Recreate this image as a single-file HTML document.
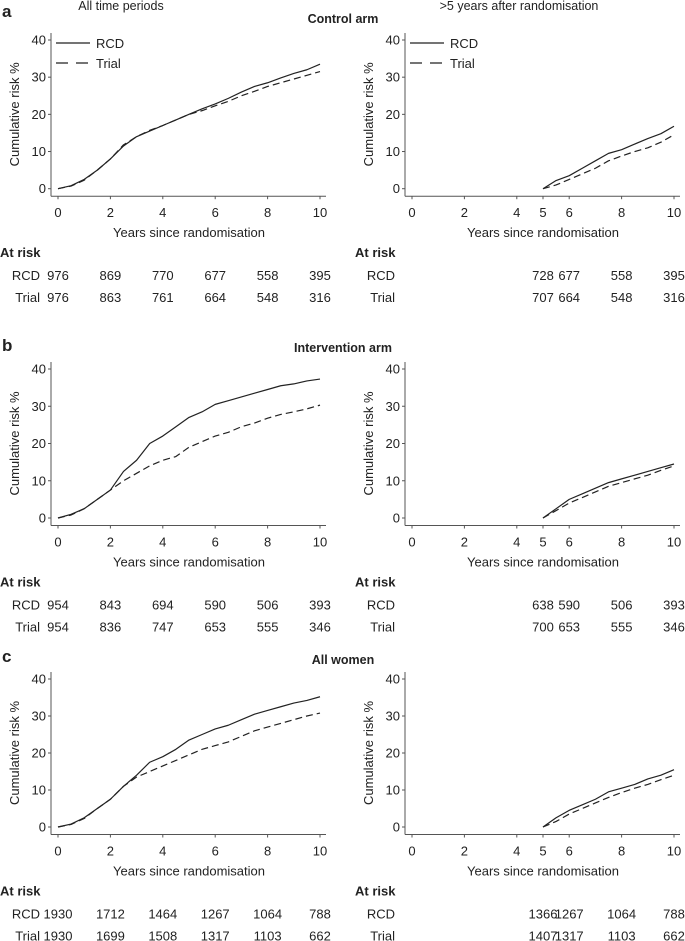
<!DOCTYPE html>
<html><head><meta charset="utf-8"><style>
body{margin:0;background:#fff;}
svg{display:block;font-family:"Liberation Sans",sans-serif;}
</style></head><body>
<svg id="fig" width="685" height="941" viewBox="0 0 685 941"></svg>
<script>
const xs = [0,0.5,1,1.5,2,2.5,3,3.5,4,4.5,5,5.5,6,6.5,7,7.5,8,8.5,9,9.5,10];
const xsLate = [5,5.5,6,6.5,7,7.5,8,8.5,9,9.5,10];
const aRcd = [0,0.8,2.5,5,8,11.5,14,15.5,17,18.5,20,21.5,22.8,24.3,26,27.5,28.5,29.8,31,32,33.5];
const aTrial = [0,0.7,2.3,5,8,11.8,14,15.7,17,18.5,20,21,22.3,23.5,25,26.2,27.5,28.5,29.5,30.5,31.5];
const aRcdLate = [0,2.2,3.5,5.5,7.5,9.5,10.5,12,13.5,14.8,16.8];
const aTrialLate = [0,1,2.5,4,5.5,7.5,8.8,10,11,12.5,14.5];
const bRcd = [0,1,2.5,5,7.5,12.5,15.5,20,22,24.5,27,28.5,30.5,31.5,32.5,33.5,34.5,35.5,36,36.8,37.3];
const bTrial = [0,0.8,2.5,5,7.5,10,12,14,15.5,16.5,19,20.5,22,23,24.5,25.5,26.8,27.8,28.5,29.3,30.3];
const bRcdLate = [0,2.5,5,6.5,8,9.5,10.5,11.5,12.5,13.5,14.5];
const bTrialLate = [0,2,4,5.5,7,8.5,9.5,10.5,11.5,12.8,14];
const cRcd = [0,0.8,2.5,5,7.5,11,14,17.5,19,21,23.5,25,26.5,27.5,29,30.5,31.5,32.5,33.5,34.2,35.2];
const cTrial = [0,0.7,2.3,5,7.5,11,13.5,15,16.5,18,19.5,21,22,23,24.5,26,27,28,29,30,30.8];
const cRcdLate = [0,2.5,4.5,6,7.5,9.5,10.5,11.5,13,14,15.5];
const cTrialLate = [0,1.5,3.5,5,6.5,8,9.3,10.5,11.5,12.8,14];
const yTicks = [0,10,20,30,40];
const xTicksAll = [0,2,4,6,8,10];
const xTicksLate = [0,2,4,5,6,8,10];
const riskTimesAll = [0,2,4,6,8,10];
const riskTimesLate = [5,6,8,10];
const aRiskRcd = [976,869,770,677,558,395];
const aRiskTrial = [976,863,761,664,548,316];
const aRiskRcdLate = [728,677,558,395];
const aRiskTrialLate = [707,664,548,316];
const bRiskRcd = [954,843,694,590,506,393];
const bRiskTrial = [954,836,747,653,555,346];
const bRiskRcdLate = [638,590,506,393];
const bRiskTrialLate = [700,653,555,346];
const cRiskRcd = [1930,1712,1464,1267,1064,788];
const cRiskTrial = [1930,1699,1508,1317,1103,662];
const cRiskRcdLate = [1366,1267,1064,788];
const cRiskTrialLate = [1407,1317,1103,662];

const svg = document.getElementById('fig');
const NS = 'http://www.w3.org/2000/svg';
function mk(tag, attrs, text){const e=document.createElementNS(NS,tag);for(const k in attrs)e.setAttribute(k,attrs[k]);if(text!==undefined)e.textContent=text;svg.appendChild(e);return e;}

function txt(x,y,s,anchor,size,weight,name){
  const t=mk('text',{x:x,y:y,'text-anchor':anchor||'middle','font-size':size||13,'font-weight':weight||'normal',fill:'#222'},s);
  
  
  return t;
}

mk('rect',{x:0,y:0,width:685,height:941,fill:'#fff'});
txt(121,10,'All time periods','middle',12.5,'normal','col-header-all-periods');
txt(519,10,'>5 years after randomisation','middle',12.5,'normal','col-header-late');

function panel(opt){
  const X0=opt.x0, X10=opt.x10;
  const sx=v=>X0+(X10-X0)*v/10;
  const sy=v=>opt.y0+(opt.y40-opt.y0)*v/40;
  const axL=X0-7, axR=X10+6, axB=opt.y0+7.5;
  const g=opt.key;
  let e=mk('line',{x1:axL,y1:sy(40)-7,x2:axL,y2:axB,stroke:'#555','stroke-width':1});
   
  e=mk('line',{x1:axL,y1:axB,x2:axR,y2:axB,stroke:'#555','stroke-width':1});
   
  yTicks.forEach(v=>{
    const t=mk('line',{x1:axL-3,y1:sy(v),x2:axL,y2:sy(v),stroke:'#555'});
     
    txt(axL-5,sy(v)+4.5,String(v),'end',13,'normal',g+'-y-tick-label');
  });
  opt.xticks.forEach(v=>{
    const t=mk('line',{x1:sx(v),y1:axB,x2:sx(v),y2:axB+3,stroke:'#555'});
     
    txt(sx(v),axB+21,String(v),'middle',13,'normal',g+'-x-tick-label');
  });
  txt((X0+X10)/2,axB+41,'Years since randomisation','middle',13,'normal',g+'-x-axis-title');
  const yt=txt(0,0,'Cumulative risk %','middle',13,'normal',g+'-y-axis-title');
  yt.setAttribute('transform','translate('+(axL-32)+','+((sy(40)+sy(0))/2)+') rotate(-90)');
  function curve(xv,yv,dash,name){
    let d='M'+sx(xv[0])+','+sy(yv[0]);
    for(let i=1;i<xv.length;i++){ d+=' L'+sx(xv[i])+','+sy(yv[i]); }
    const p=mk('path',{d:d,fill:'none',stroke:'#222','stroke-width':1.2,'stroke-dasharray':dash||'none','stroke-linejoin':'round'});
     
  }
  curve(opt.xv,opt.trial,'7,4',g+'-trial-curve');
  curve(opt.xv,opt.rcd,null,g+'-rcd-curve');
  if(opt.legend){
    const lx=axL+5, ly=sy(40)+3;
    let l=mk('line',{x1:lx,y1:ly,x2:lx+34,y2:ly,stroke:'#222','stroke-width':1.2});
     
    txt(lx+40,ly+5,'RCD','start',13,'normal',g+'-legend-rcd');
    l=mk('line',{x1:lx,y1:ly+20,x2:lx+34,y2:ly+20,stroke:'#222','stroke-width':1.2,'stroke-dasharray':'12,8'});
     
    txt(lx+40,ly+25,'Trial','start',13,'normal',g+'-legend-trial');
  }
  txt(opt.riskLabelX,axB+61,'At risk','start',13,'bold',g+'-at-risk-title');
  txt(opt.rowLabelX,axB+84,'RCD','end',13,'normal',g+'-risk-row-rcd-label');
  txt(opt.rowLabelX,axB+106,'Trial','end',13,'normal',g+'-risk-row-trial-label');
  opt.rt.forEach((t,i)=>{
    txt(sx(t),axB+84,String(opt.rr[i]),'middle',13,'normal',g+'-risk-rcd-value');
    txt(sx(t),axB+106,String(opt.tr[i]),'middle',13,'normal',g+'-risk-trial-value');
  });
}

const rows=[
 {k:'a',y40:40,y0:188.7,title:'Control arm',lab:17,tY:23,d:[aRcd,aTrial,aRcdLate,aTrialLate,aRiskRcd,aRiskTrial,aRiskRcdLate,aRiskTrialLate]},
 {k:'b',y40:369,y0:518,title:'Intervention arm',lab:351,tY:352,d:[bRcd,bTrial,bRcdLate,bTrialLate,bRiskRcd,bRiskTrial,bRiskRcdLate,bRiskTrialLate]},
 {k:'c',y40:679,y0:827,title:'All women',lab:662,tY:664,d:[cRcd,cTrial,cRcdLate,cTrialLate,cRiskRcd,cRiskTrial,cRiskRcdLate,cRiskTrialLate]}
];
rows.forEach((r,i)=>{
  txt(2,r.lab,r.k,'start',17,'bold','panel-label-'+r.k);
  txt(343,r.tY,r.title,'middle',12.5,'bold','panel-title-'+r.k);
  panel({key:r.k+'-all',x0:58,x10:320,y40:r.y40,y0:r.y0,xticks:xTicksAll,xv:xs,rcd:r.d[0],trial:r.d[1],legend:i===0,
    riskLabelX:0,rowLabelX:40,rt:riskTimesAll,rr:r.d[4],tr:r.d[5]});
  panel({key:r.k+'-late',x0:412,x10:674,y40:r.y40,y0:r.y0,xticks:xTicksLate,xv:xsLate,rcd:r.d[2],trial:r.d[3],legend:i===0,
    riskLabelX:355,rowLabelX:395,rt:riskTimesLate,rr:r.d[6],tr:r.d[7]});
});
</script>
</body></html>
